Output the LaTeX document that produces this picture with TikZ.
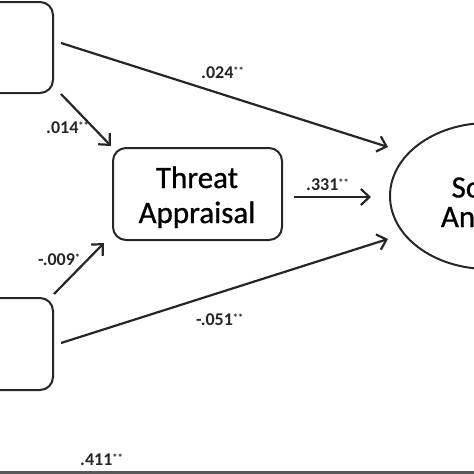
\documentclass[tikz,border=0pt]{standalone}
\usepackage{fontspec}
\setmainfont{Carlito}
\newfontfamily\heavyfont[FakeBold=0.8]{Carlito}
\usetikzlibrary{arrows.meta,shapes.geometric}
\definecolor{lc}{HTML}{262626}
\newcommand{\sigst}[1]{{\fontsize{10.5}{10.5}\selectfont\raisebox{3.5pt}{#1}}}
\begin{document}
\begin{tikzpicture}[x=1pt,y=-1pt,
  box/.style={draw=lc, line width=2pt, rounded corners=13pt, inner sep=0pt},
  arr/.style={draw=lc, line width=2.2pt, -{Straight Barb[length=8.5pt,width=16pt]}},
  lab/.style={anchor=base west, inner sep=0pt, text=lc, font=\fontsize{18}{18}\selectfont\bfseries},
  big/.style={anchor=base, inner sep=0pt, align=center, text=black}]
\useasboundingbox (0,0) rectangle (474,474);
\clip (0,0) rectangle (474,474);
% boxes
\node[box, minimum width=113pt, minimum height=91pt] (tl) at (-3.5,47.5) {};
\node[box, minimum width=113pt, minimum height=92pt] (bl) at (-3.5,344) {};
\node[box, minimum width=169pt, minimum height=92pt] (ta) at (197.5,194) {};
\node[big, font=\heavyfont\fontsize{31}{35}\selectfont] (tat) at (197,223) {Threat\\Appraisal};
\node[draw=lc, line width=2pt, ellipse, minimum width=196pt, minimum height=146pt, inner sep=0pt] (el) at (488,196) {};
\node[big, font=\heavyfont\fontsize{31}{29.5}\selectfont] (elt) at (488,227) {Social\\Anxiety};
% connectors
\draw[arr] ([shift={(7,-4.5)}]tl.east) -- ([shift={(-1,-49)}]el.west);
\draw[arr] ([shift={(7,0)}]tl.south east) -- ([shift={(-1,-1)}]ta.north west);
\draw[arr] ([shift={(11,3)}]ta.east) -- ([shift={(-18,1)}]el.west);
\draw[arr] ([shift={(0,-3)}]bl.north east) -- ([shift={(-8,2)}]ta.south west);
\draw[arr] ([shift={(7,-1)}]bl.east) -- ([shift={(-1,43)}]el.west);
% labels
\node[lab] (l1) at (201,78) {.024\sigst{**}};
\node[lab] (l2) at (46,133) {.014\sigst{**}};
\node[lab] (l3) at (306,190) {.331\sigst{**}};
\node[lab] (l4) at (38,265) {-.009\sigst{*}};
\node[lab] (l5) at (196,325) {-.051\sigst{**}};
\node[lab] (l6) at (80,465) {.411\sigst{**}};
% bottom rule
\draw[line width=3pt, gray!70!black] (0,472.5) -- (474,472.5);
\end{tikzpicture}
\end{document}
